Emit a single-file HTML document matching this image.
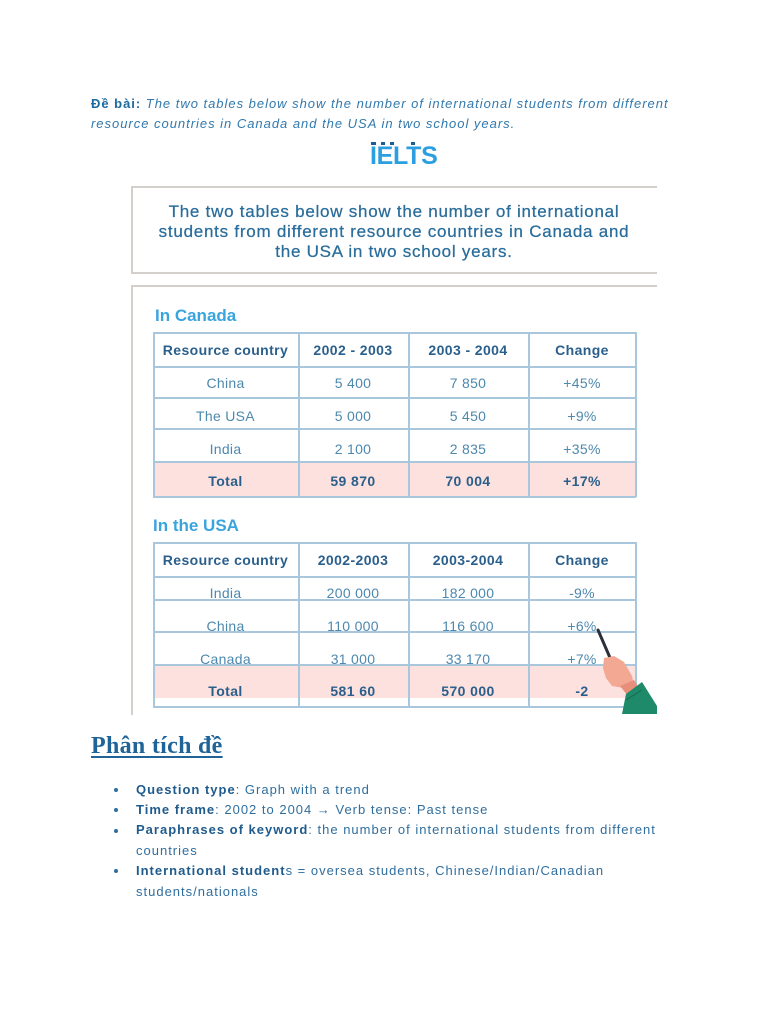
<!DOCTYPE html>
<html><head><meta charset="utf-8">
<style>
*{margin:0;padding:0;box-sizing:border-box}
body{width:768px;height:1024px;background:#fff;position:relative;overflow:hidden;font-family:"Liberation Sans",Arial,sans-serif}
.a{position:absolute;white-space:nowrap}
.t{position:absolute;white-space:nowrap;text-align:center;font-size:14px;line-height:20px;color:#4d88ad;letter-spacing:0.3px}
.h{color:#2a5f8c;font-weight:bold;font-size:14px;letter-spacing:0.4px}
.ln{position:absolute;background:#a8c7dc}
.pink{position:absolute;background:#fde1de}
.intro{font-size:13px;line-height:20px;color:#3179ae;font-style:italic;letter-spacing:0.98px}
.bl{font-size:13px;line-height:20px;color:#2f6e9e;letter-spacing:1px}
.bl b{color:#1f5b8c}
.dot{position:absolute;width:4px;height:4px;border-radius:50%;background:#2f6e9e}
</style></head><body>

<!-- intro -->
<div class="a intro" style="left:91px;top:94px;"><span style="font-style:normal;font-weight:bold;color:#1b6aa0">Đề bài:</span> The two tables below show the number of international students from different</div>
<div class="a intro" style="left:91px;top:114px;">resource countries in Canada and the USA in two school years.</div>

<!-- IELTS logo -->
<div class="a" style="left:370px;top:142px;font-size:25px;font-weight:bold;color:#2c9fe0;line-height:28px;letter-spacing:-0.3px">IELTS</div>
<div class="a" style="left:371px;top:142px;width:5px;height:3px;background:#1e5f93"></div>
<div class="a" style="left:381px;top:142px;width:4px;height:3px;background:#1e5f93"></div>
<div class="a" style="left:390px;top:142px;width:4px;height:3px;background:#1e5f93"></div>
<div class="a" style="left:411px;top:142px;width:4px;height:3px;background:#1e5f93"></div>

<!-- caption box -->
<div class="a" style="left:131px;top:186px;width:526px;height:88px;border:2.5px solid #d3cfca;border-right:none"></div>
<div class="a" style="left:131px;top:202px;width:526px;text-align:center;font-size:17px;line-height:20px;color:#2a6d9b;letter-spacing:0.75px;-webkit-text-stroke:0.25px #2a6d9b">The two tables below show the number of international<br>students from different resource countries in Canada and<br>the USA in two school years.</div>

<!-- tables frame -->
<div class="a" style="left:131px;top:285px;width:530px;height:430px;border-top:2.5px solid #d3cfca;border-left:2.5px solid #d3cfca"></div>

<!-- Canada -->
<div class="a" style="left:155px;top:306px;font-size:17px;line-height:20px;font-weight:bold;color:#3aa4dd">In Canada</div>
<div class="pink" style="left:153px;top:462px;width:483px;height:35px"></div>
<div class="ln" style="left:153px;top:332px;width:483px;height:1.5px"></div>
<div class="ln" style="left:153px;top:366px;width:483px;height:1.5px"></div>
<div class="ln" style="left:153px;top:397px;width:483px;height:1.5px"></div>
<div class="ln" style="left:153px;top:428px;width:483px;height:1.5px"></div>
<div class="ln" style="left:153px;top:461px;width:483px;height:1.5px"></div>
<div class="ln" style="left:153px;top:496px;width:483px;height:1.5px"></div>
<div class="ln" style="left:153px;top:332px;width:1.5px;height:165px"></div>
<div class="ln" style="left:298px;top:332px;width:1.5px;height:165px"></div>
<div class="ln" style="left:408px;top:332px;width:1.5px;height:165px"></div>
<div class="ln" style="left:528px;top:332px;width:1.5px;height:165px"></div>
<div class="ln" style="left:635px;top:332px;width:1.5px;height:165px"></div>

<div class="t h" style="left:153px;width:145px;top:340px">Resource country</div>
<div class="t h" style="left:298px;width:110px;top:340px">2002 - 2003</div>
<div class="t h" style="left:408px;width:120px;top:340px">2003 - 2004</div>
<div class="t h" style="left:528px;width:108px;top:340px">Change</div>

<div class="t" style="left:153px;width:145px;top:373px">China</div>
<div class="t" style="left:298px;width:110px;top:373px">5 400</div>
<div class="t" style="left:408px;width:120px;top:373px">7 850</div>
<div class="t" style="left:528px;width:108px;top:373px">+45%</div>

<div class="t" style="left:153px;width:145px;top:406px">The USA</div>
<div class="t" style="left:298px;width:110px;top:406px">5 000</div>
<div class="t" style="left:408px;width:120px;top:406px">5 450</div>
<div class="t" style="left:528px;width:108px;top:406px">+9%</div>

<div class="t" style="left:153px;width:145px;top:439px">India</div>
<div class="t" style="left:298px;width:110px;top:439px">2 100</div>
<div class="t" style="left:408px;width:120px;top:439px">2 835</div>
<div class="t" style="left:528px;width:108px;top:439px">+35%</div>

<div class="t h" style="left:153px;width:145px;top:471px">Total</div>
<div class="t h" style="left:298px;width:110px;top:471px">59 870</div>
<div class="t h" style="left:408px;width:120px;top:471px">70 004</div>
<div class="t h" style="left:528px;width:108px;top:471px">+17%</div>

<!-- USA -->
<div class="a" style="left:153px;top:516px;font-size:17px;line-height:20px;font-weight:bold;color:#3aa4dd">In the USA</div>
<div class="pink" style="left:153px;top:664px;width:483px;height:34px"></div>
<div class="ln" style="left:153px;top:542px;width:483px;height:1.5px"></div>
<div class="ln" style="left:153px;top:576px;width:483px;height:1.5px"></div>
<div class="ln" style="left:153px;top:599px;width:483px;height:1.5px"></div>
<div class="ln" style="left:153px;top:631px;width:483px;height:1.5px"></div>
<div class="ln" style="left:153px;top:664px;width:483px;height:1.5px"></div>
<div class="ln" style="left:153px;top:706px;width:483px;height:1.5px"></div>
<div class="ln" style="left:153px;top:542px;width:1.5px;height:165px"></div>
<div class="ln" style="left:298px;top:542px;width:1.5px;height:165px"></div>
<div class="ln" style="left:408px;top:542px;width:1.5px;height:165px"></div>
<div class="ln" style="left:528px;top:542px;width:1.5px;height:165px"></div>
<div class="ln" style="left:635px;top:542px;width:1.5px;height:165px"></div>

<div class="t h" style="left:153px;width:145px;top:550px">Resource country</div>
<div class="t h" style="left:298px;width:110px;top:550px">2002-2003</div>
<div class="t h" style="left:408px;width:120px;top:550px">2003-2004</div>
<div class="t h" style="left:528px;width:108px;top:550px">Change</div>

<div class="t" style="left:153px;width:145px;top:583px">India</div>
<div class="t" style="left:298px;width:110px;top:583px">200 000</div>
<div class="t" style="left:408px;width:120px;top:583px">182 000</div>
<div class="t" style="left:528px;width:108px;top:583px">-9%</div>

<div class="t" style="left:153px;width:145px;top:616px">China</div>
<div class="t" style="left:298px;width:110px;top:616px">110 000</div>
<div class="t" style="left:408px;width:120px;top:616px">116 600</div>
<div class="t" style="left:528px;width:108px;top:616px">+6%</div>

<div class="t" style="left:153px;width:145px;top:649px">Canada</div>
<div class="t" style="left:298px;width:110px;top:649px">31 000</div>
<div class="t" style="left:408px;width:120px;top:649px">33 170</div>
<div class="t" style="left:528px;width:108px;top:649px">+7%</div>

<div class="t h" style="left:153px;width:145px;top:681px">Total</div>
<div class="t h" style="left:298px;width:110px;top:681px">581 60</div>
<div class="t h" style="left:408px;width:120px;top:681px">570 000</div>
<div class="t h" style="left:528px;width:108px;top:681px">-2</div>

<!-- hand illustration -->
<svg class="a" style="left:590px;top:620px" width="80" height="100" viewBox="0 0 80 100">
  <line x1="8" y1="10" x2="21" y2="40" stroke="#2a2f3a" stroke-width="3" stroke-linecap="round"/>
  <path d="M14 38 L24 36 L34 42 L42 56 L44 64 L34 68 L22 66 L16 58 L13 48 Z" fill="#f3a893"/>
  <path d="M30 66 L44 60 L50 70 L38 76 Z" fill="#e88f7c"/>
  <path d="M36 74 L52 62 L62 78 L67 86 L67 94 L32 94 Z" fill="#1f8a6a"/>
  <path d="M36 80 L52 70" stroke="#156b52" stroke-width="1"/>
</svg>
<div class="a" style="left:657px;top:280px;width:111px;height:440px;background:#fff"></div>

<!-- Phân tích đề -->
<div class="a" style="left:91px;top:733px;font-family:'Liberation Serif',serif;font-size:24px;line-height:27px;font-weight:bold;color:#1f6398;text-decoration:underline;text-decoration-thickness:1.5px;text-underline-offset:3px;letter-spacing:0.3px">Phân tích đề</div>

<div class="dot" style="left:114px;top:788px"></div>
<div class="a bl" style="left:136px;top:780px"><b>Question type</b>: Graph with a trend</div>
<div class="dot" style="left:114px;top:808px"></div>
<div class="a bl" style="left:136px;top:800px"><b>Time frame</b>: 2002 to 2004 → Verb tense: Past tense</div>
<div class="dot" style="left:114px;top:829px"></div>
<div class="a bl" style="left:136px;top:820px"><b>Paraphrases of keyword</b>: the number of international students from different</div>
<div class="a bl" style="left:136px;top:841px">countries</div>
<div class="dot" style="left:114px;top:869px"></div>
<div class="a bl" style="left:136px;top:861px"><b>International student</b>s = oversea students, Chinese/Indian/Canadian</div>
<div class="a bl" style="left:136px;top:882px">students/nationals</div>

</body></html>
